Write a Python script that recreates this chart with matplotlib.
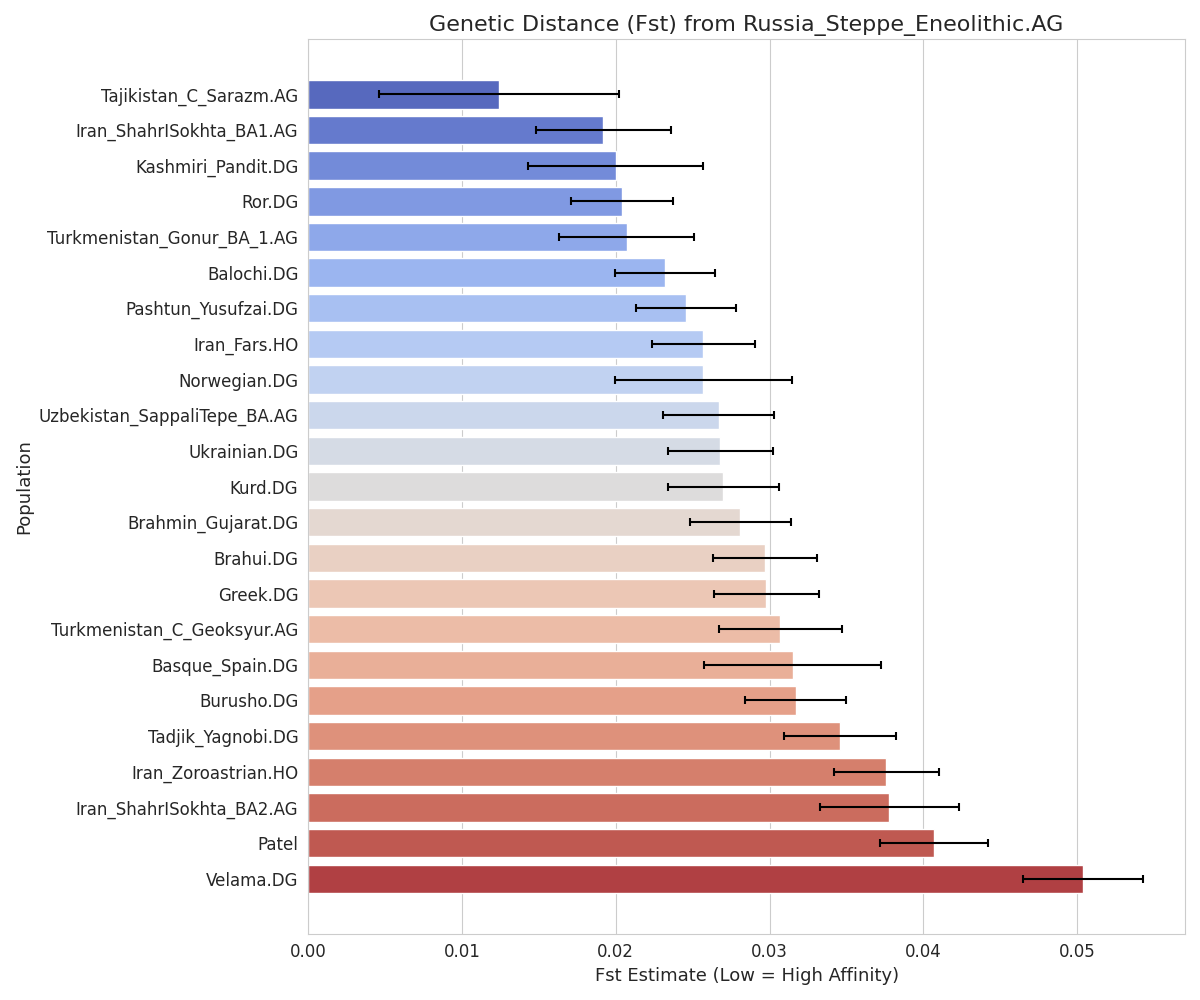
import matplotlib
matplotlib.use("Agg")
import matplotlib.pyplot as plt
import seaborn as sns
import numpy as np

populations = [
    "Tajikistan_C_Sarazm.AG", "Iran_ShahrISokhta_BA1.AG", "Kashmiri_Pandit.DG", "Ror.DG",
    "Turkmenistan_Gonur_BA_1.AG", "Balochi.DG", "Pashtun_Yusufzai.DG", "Iran_Fars.HO",
    "Norwegian.DG", "Uzbekistan_SappaliTepe_BA.AG", "Ukrainian.DG", "Kurd.DG",
    "Brahmin_Gujarat.DG", "Brahui.DG", "Greek.DG", "Turkmenistan_C_Geoksyur.AG",
    "Basque_Spain.DG", "Burusho.DG", "Tadjik_Yagnobi.DG", "Iran_Zoroastrian.HO",
    "Iran_ShahrISokhta_BA2.AG", "Patel", "Velama.DG",
]
fst = [
    0.0124, 0.0192, 0.0200, 0.0204, 0.0207, 0.0232, 0.0246, 0.0257,
    0.0257, 0.0267, 0.0268, 0.0270, 0.0281, 0.0297, 0.0298, 0.0307,
    0.0315, 0.0317, 0.0346, 0.0376, 0.0378, 0.0407, 0.0504,
]
fst_err = [
    0.0078, 0.0044, 0.0057, 0.0033, 0.0044, 0.00325, 0.00325, 0.00337,
    0.00575, 0.0036, 0.0034, 0.00363, 0.00328, 0.00336, 0.0034, 0.0040,
    0.00577, 0.0033, 0.00365, 0.0034, 0.0045, 0.0035, 0.0039,
]

sns.set_style("whitegrid")
plt.rcParams['font.family'] = ['DejaVu Sans']

fig, ax = plt.subplots(figsize=(12, 10), dpi=100)
colors = [sns.desaturate(c, 0.75) for c in sns.color_palette("coolwarm", len(populations))]
ax.barh(populations, fst, xerr=fst_err, color=colors,
        capsize=3, error_kw=dict(ecolor="black", elinewidth=1.5, capthick=1.5))
ax.invert_yaxis()
ax.set_title("Genetic Distance (Fst) from Russia_Steppe_Eneolithic.AG", fontsize=16)
ax.set_xlabel("Fst Estimate (Low = High Affinity)", fontsize=13)
ax.set_ylabel("Population", fontsize=13)
ax.tick_params(axis='both', labelsize=12)
ax.grid(axis='y', visible=False)
fig.tight_layout()
fig.savefig("out.png")
